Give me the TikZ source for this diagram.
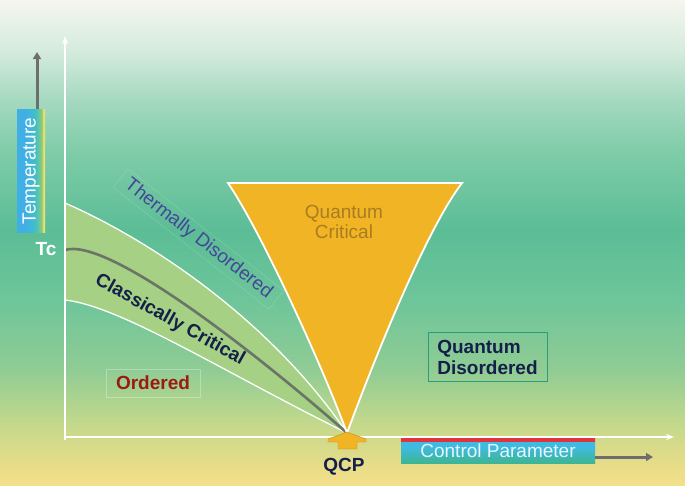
\documentclass[tikz,border=0pt]{standalone}
\usepackage{fontspec}
\setmainfont{Liberation Sans}
\usepackage{xcolor}
\usetikzlibrary{arrows.meta,positioning,calc}
\definecolor{bgtop}{HTML}{F5F6EF}
\definecolor{bga}{HTML}{D5EBDD}
\definecolor{bgb}{HTML}{A5D9C0}
\definecolor{bgc}{HTML}{80CCA9}
\definecolor{bgd}{HTML}{5BBD96}
\definecolor{bge}{HTML}{6EC59A}
\definecolor{bgf}{HTML}{90CC94}
\definecolor{bgg}{HTML}{C0D88C}
\definecolor{bgh}{HTML}{ECDD88}
\definecolor{bgbot}{HTML}{F3E08A}
\definecolor{ccgreen}{HTML}{A6D083}
\definecolor{ccline}{HTML}{6A7468}
\definecolor{qcorange}{HTML}{F1B424}
\definecolor{navy}{HTML}{14204A}
\definecolor{tdpurple}{HTML}{45459A}
\definecolor{ordred}{HTML}{9A1A14}
\definecolor{qdedge}{HTML}{2A9D7A}
\definecolor{arrgray}{HTML}{6E6E6E}
\definecolor{tpblue}{HTML}{3FAFE6}
\definecolor{tpcyan}{HTML}{42BFC8}
\definecolor{tpgreen}{HTML}{8CCB78}
\definecolor{tpyel}{HTML}{EDE070}
\definecolor{cpred}{HTML}{E0343C}
\definecolor{cpblue}{HTML}{3EBBE2}
\definecolor{cpteal}{HTML}{3DB594}
\definecolor{qctext}{HTML}{A97C22}
\pgfdeclareverticalshading{bgshade}{100bp}{color(0bp)=(bgbot); color(25bp)=(bgbot);
  color(26.5bp)=(bgh); color(31.7bp)=(bgg); color(36.9bp)=(bgf); color(44.1bp)=(bge);
  color(51.3bp)=(bgd); color(59.5bp)=(bgc); color(64.7bp)=(bgb); color(69.8bp)=(bga);
  color(75bp)=(bgtop); color(100bp)=(bgtop)}
\pgfdeclarehorizontalshading{tempshade}{100bp}{color(0bp)=(tpblue); color(25bp)=(tpblue);
  color(40bp)=(tpblue); color(58bp)=(tpcyan); color(69bp)=(tpgreen); color(72bp)=(tpyel); color(100bp)=(tpyel)}
\pgfdeclareverticalshading{ctrlshade}{100bp}{color(0bp)=(cpteal); color(25bp)=(cpteal);
  color(58bp)=(cpblue); color(68bp)=(cpblue); color(68.5bp)=(cpred); color(100bp)=(cpred)}

\begin{document}
\begin{tikzpicture}[x=1pt,y=-1pt,
  lbl/.style={font=\fontsize{19}{21}\selectfont},
  boldlbl/.style={font=\fontsize{19}{21}\selectfont\bfseries},
  axis/.style={white,line width=1.6pt,-{Stealth[length=8pt,width=6pt]}},
  grayarr/.style={arrgray,line width=3pt,-{Triangle[length=7pt,width=8pt]}},
  region/.style={fill=ccgreen,draw=white,line width=1.3pt},
  funnel/.style={fill=qcorange,draw=white,line width=1.8pt}]
\useasboundingbox (0,0) rectangle (685,485);
\shade[shading=bgshade] (0,0) rectangle (685,485);
\coordinate (qcp) at (347,433);
\coordinate (origin) at (65,437);
\coordinate (ytop) at (65,36);
\coordinate (xend) at (674,437);
\coordinate (tcA) at (65,203);
\coordinate (tcB) at (65,300);
\coordinate (tcM) at (65,250);
\coordinate (fnL) at (228,183);
\coordinate (fnR) at (462,183);
% classically critical band
\filldraw[region] (tcA) .. controls (150,240) and (270,320) .. (qcp)
  .. controls (220,370) and (120,306) .. (tcB) -- cycle;
\draw[ccline,line width=2.6pt] (tcM) .. controls (110,236) and (270,365) .. (qcp);
% quantum critical funnel
\filldraw[funnel] (fnL) -- (fnR) .. controls (426,230) and (374,360) .. (qcp)
  .. controls (320,360) and (260,230) .. (fnL) -- cycle;
% axes
\draw[axis] ($(origin)+(0,3)$) -- (ytop);
\draw[axis] (origin) -- (xend);
\filldraw[qcorange,draw=qcorange!80!black,line width=0.4pt] (338,449) -- (338,442) -- (328,442)
  -- (328,439) -- (347,432) -- (366,439) -- (366,442) -- (357,442) -- (357,449) -- cycle;
% labels
\node[boldlbl,white] (tc) at (46,249) {Tc};
\node[lbl,white,rotate=90,shade,shading=tempshade,minimum width=123pt,minimum height=28pt,inner sep=0pt] (templab) at (31,171) {Temperature};
\coordinate (temptip) at (37,52);
\draw[grayarr] (temptip |- templab.east) -- (temptip);
\node[lbl,text=white!90!cyan,shade,shading=ctrlshade,minimum width=194pt,minimum height=25pt,inner sep=0pt] (ctrl) at (498,450.5) {Control Parameter};
\coordinate (ctrltip) at (653,457);
\draw[grayarr] (ctrl.east |- ctrltip) -- (ctrltip);
\node[lbl,tdpurple,rotate=-38,draw=white,draw opacity=0.2,inner xsep=8pt,inner ysep=3pt] (thermal) at (198.5,239) {Thermally Disordered};
\node[boldlbl,navy,rotate=-29] (classical) at (170,320) {Classically Critical};
\node[font=\fontsize{19}{19.5}\selectfont,align=center,text=qctext] (qcrit) at (344,222) {Quantum\\Critical};
\node[boldlbl,navy,draw=qdedge,line width=0.8pt,align=left,minimum width=119pt,minimum height=49pt,inner xsep=9pt] (qdis) at (487.5,357) {Quantum\\Disordered};
\node[boldlbl,ordred,draw=white,draw opacity=0.3,minimum width=94pt,minimum height=28pt] (ord) at (153,383) {Ordered};
\node[boldlbl,navy] (qcplab) at (344,467) {QCP};
\end{tikzpicture}
\end{document}
